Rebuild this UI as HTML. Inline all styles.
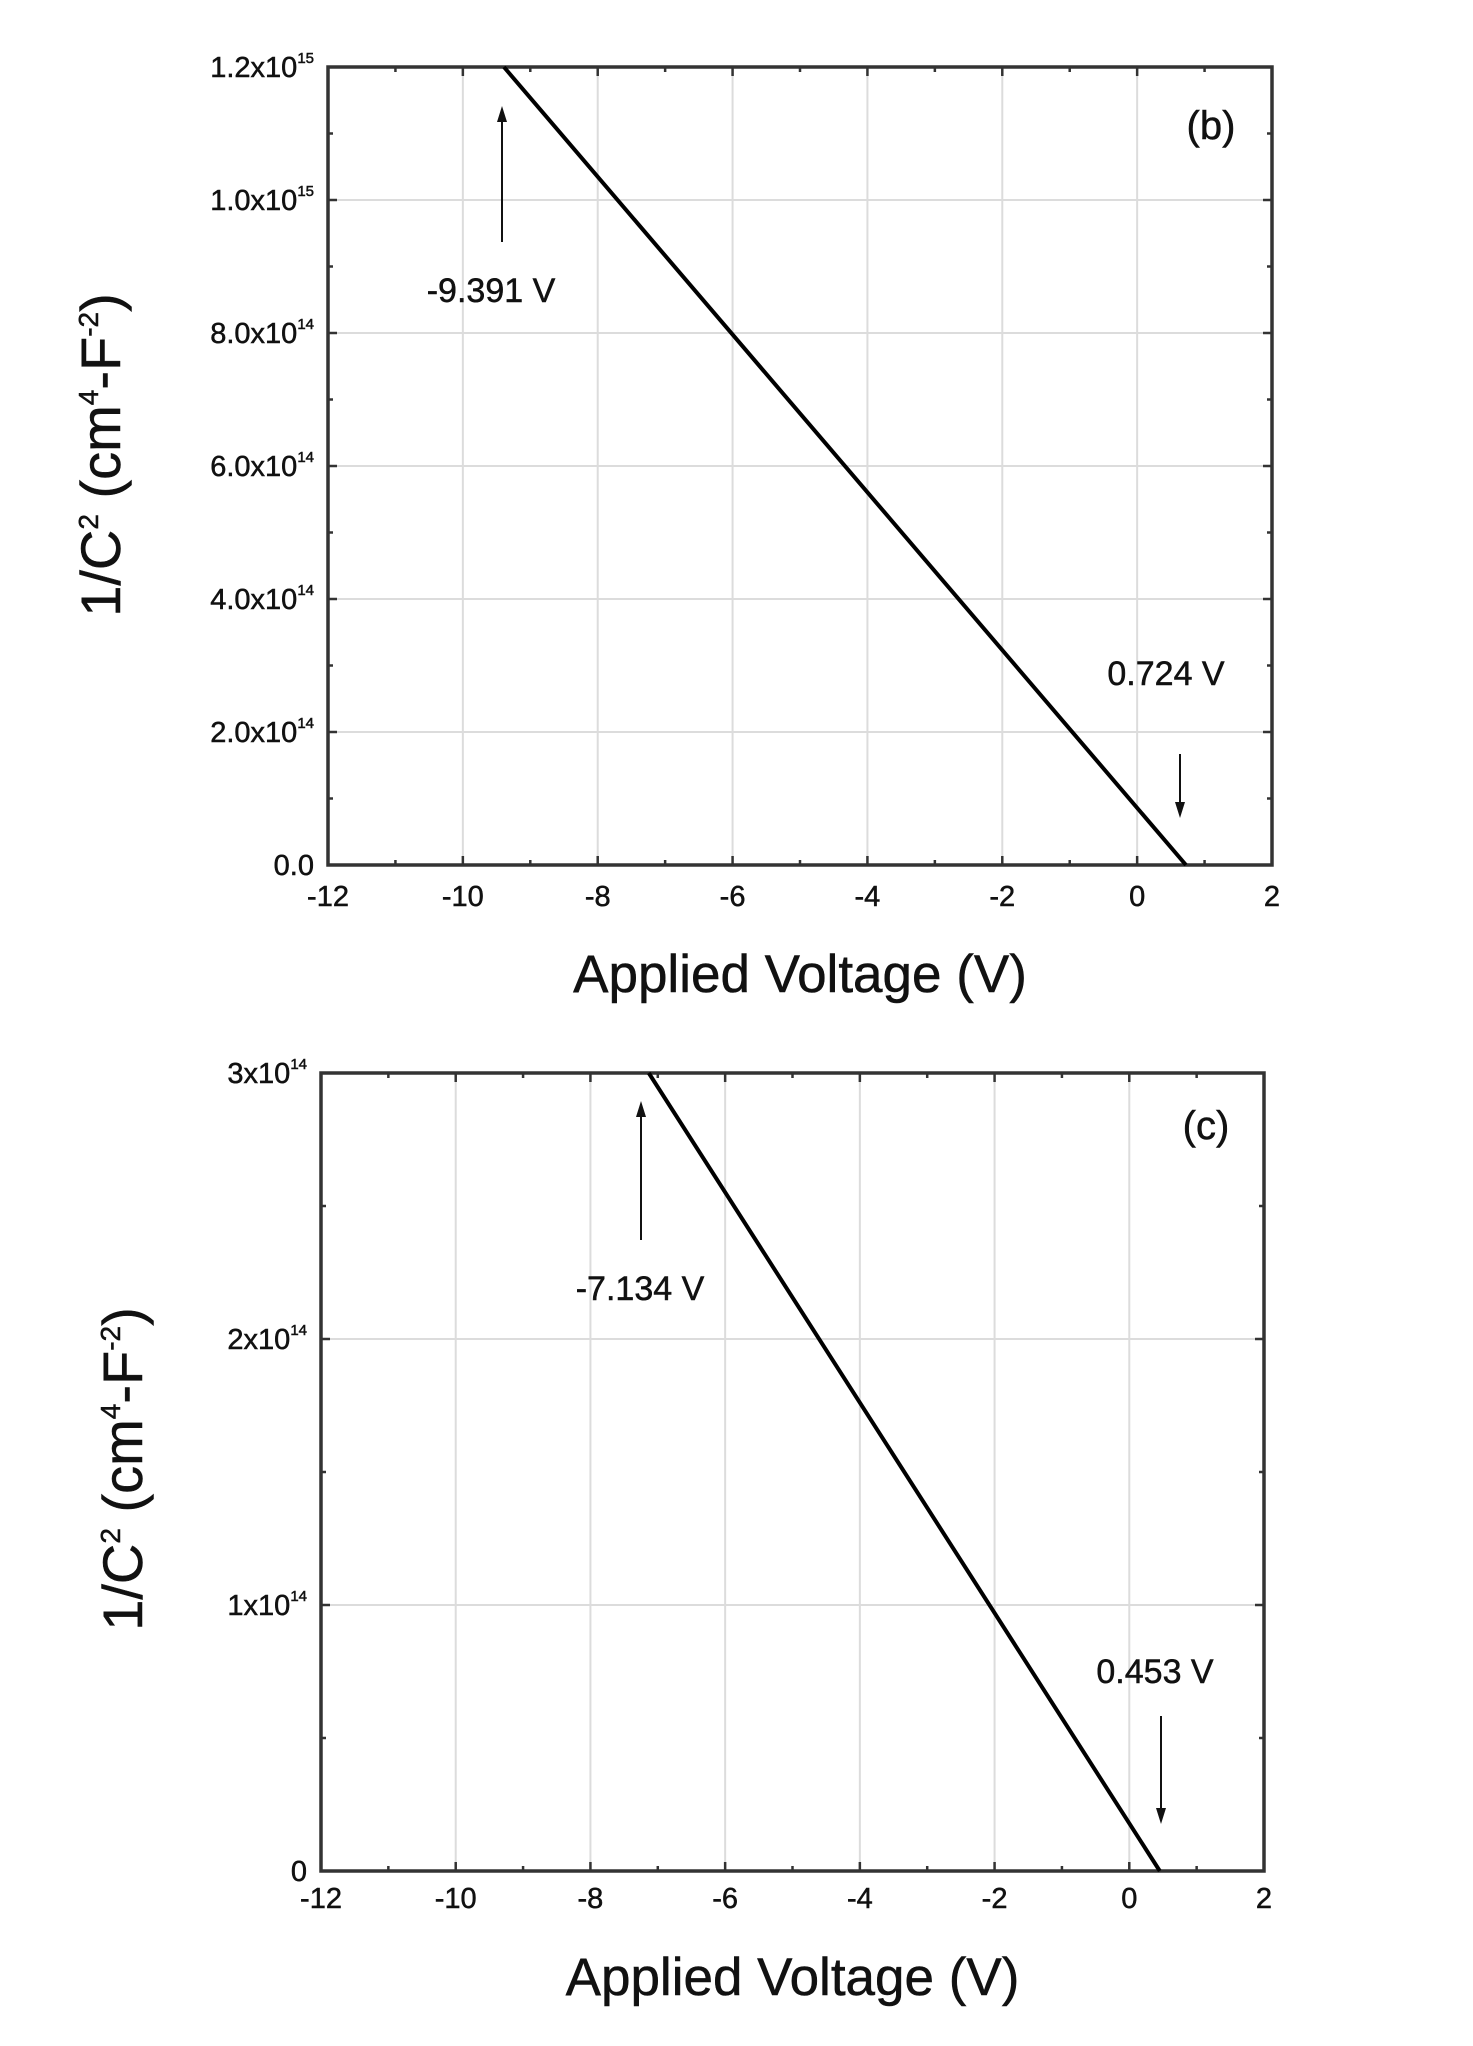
<!DOCTYPE html>
<html><head><meta charset="utf-8"><style>
html,body{margin:0;padding:0;background:#fff;}
svg{display:block;}
text{font-family:"Liberation Sans",Arial,sans-serif;fill:#111;stroke:#111;stroke-width:0.5;}
</style></head><body>
<svg id="fig" width="1473" height="2046" viewBox="0 0 1473 2046"></svg>
<script>
// Panel b data
const bXTicks = [-12,-10,-8,-6,-4,-2,0,2];
const bYTicks = [0,2e14,4e14,6e14,8e14,1e15,1.2e15];
const bYLabels = ["0.0","2.0x10|14","4.0x10|14","6.0x10|14","8.0x10|14","1.0x10|15","1.2x10|15"];
const bLineX = [-9.391, 0.724];
const bLineY = [1.2e15, 0];
// Panel c data
const cXTicks = [-12,-10,-8,-6,-4,-2,0,2];
const cYTicks = [0,1e14,2e14,3e14];
const cYLabels = ["0","1x10|14","2x10|14","3x10|14"];
const cLineX = [-7.134, 0.453];
const cLineY = [3e14, 0];

const NS="http://www.w3.org/2000/svg";
const svg=document.getElementById('fig');
function mk(tag,attrs,parent){const e=document.createElementNS(NS,tag);for(const k in attrs)e.setAttribute(k,attrs[k]);(parent||svg).appendChild(e);return e;}

function panel(p){
  const g=mk('g',{});
  
  
  const xs=v=>p.L+(v-p.xmin)/(p.xmax-p.xmin)*(p.R-p.L);
  const ys=v=>p.B-(v-p.ymin)/(p.ymax-p.ymin)*(p.B-p.T);
  p.xTicks.forEach(v=>{const l=mk('line',{x1:xs(v),x2:xs(v),y1:p.T,y2:p.B,stroke:'#dcdcdc','stroke-width':2},g);
    });
  p.yTicks.forEach(v=>{const l=mk('line',{x1:p.L,x2:p.R,y1:ys(v),y2:ys(v),stroke:'#dcdcdc','stroke-width':2},g);
    });
  for(let i=0;i<p.xTicks.length;i++){const v=p.xTicks[i];
    [[p.B,-1],[p.T,1]].forEach(([y,d])=>mk('line',{x1:xs(v),x2:xs(v),y1:y,y2:y+d*9,stroke:'#333','stroke-width':2.5},g));
    if(i<p.xTicks.length-1){const m=(v+p.xTicks[i+1])/2;
      [[p.B,-1],[p.T,1]].forEach(([y,d])=>mk('line',{x1:xs(m),x2:xs(m),y1:y,y2:y+d*5,stroke:'#333','stroke-width':2.5},g));}
    const t=mk('text',{x:xs(v),y:p.xLabY,'font-size':29,'text-anchor':'middle'},g);t.textContent=String(v);
    }
  for(let i=0;i<p.yTicks.length;i++){const v=p.yTicks[i];
    [[p.L,1],[p.R,-1]].forEach(([x,d])=>mk('line',{x1:x,x2:x+d*9,y1:ys(v),y2:ys(v),stroke:'#333','stroke-width':2.5},g));
    if(i<p.yTicks.length-1){const m=(v+p.yTicks[i+1])/2;
      [[p.L,1],[p.R,-1]].forEach(([x,d])=>mk('line',{x1:x,x2:x+d*5,y1:ys(m),y2:ys(m),stroke:'#333','stroke-width':2.5},g));}
    const parts=p.yLabels[i].split('|');
    const t=mk('text',{x:p.L-14,y:ys(v)+10,'font-size':29,'text-anchor':'end'},g);
    
    const s1=mk('tspan',{},t);s1.textContent=parts[0];
    if(parts[1]){const s2=mk('tspan',{dy:-14,'font-size':15},t);s2.textContent=parts[1];}
  }
  const fr=mk('rect',{x:p.L,y:p.T,width:p.R-p.L,height:p.B-p.T,fill:'none',stroke:'#333','stroke-width':3.5},g);
  
  const ln=mk('line',{x1:xs(p.lx[0]),y1:ys(p.ly[0]),x2:xs(p.lx[1]),y2:ys(p.ly[1]),stroke:'#000','stroke-width':4},g);
  
  p.arrows.forEach(a=>{
    const ax=a.x, y1=a.y1, y2=a.y2, d=y2>y1?1:-1;
    const l=mk('line',{x1:ax,x2:ax,y1:y1,y2:y2-d*10,stroke:'#111','stroke-width':2},g);
    
    mk('polygon',{points:`${ax-5},${y2-d*16} ${ax+5},${y2-d*16} ${ax},${y2}`,fill:'#111'},g);
    const t=mk('text',{x:a.tx,y:a.ty,'font-size':34,'text-anchor':'middle'},g);t.textContent=a.label;
    
  });
  const pl=mk('text',{x:p.tagX,y:p.tagY,'font-size':40,'text-anchor':'middle'},g);pl.textContent=p.tag;
  
  const xt=mk('text',{x:(p.L+p.R)/2,y:p.xTitleY,'font-size':53,'text-anchor':'middle'},g);xt.textContent='Applied Voltage (V)';
  
  const yt=mk('text',{x:0,y:0,'font-size':56,'text-anchor':'middle',transform:`translate(${p.yTitleX},${p.yTitleY}) rotate(-90)`},g);
  
  const a=mk('tspan',{},yt);a.textContent='1/C';
  const b=mk('tspan',{dy:-22,'font-size':28},yt);b.textContent='2';
  const c=mk('tspan',{dy:22},yt);c.textContent=' (cm';
  const d=mk('tspan',{dy:-22,'font-size':28},yt);d.textContent='4';
  const e=mk('tspan',{dy:22},yt);e.textContent='-F';
  const f=mk('tspan',{dy:-22,'font-size':28},yt);f.textContent='-2';
  const h=mk('tspan',{dy:22},yt);h.textContent=')';
}

panel({name:'chart-b',L:328,R:1272,T:67,B:865,xmin:-12,xmax:2,ymin:0,ymax:1.2e15,
  xTicks:bXTicks,yTicks:bYTicks,yLabels:bYLabels,lx:bLineX,ly:bLineY,xLabY:906,
  arrows:[{x:502,y1:242,y2:106,label:'-9.391 V',tx:491,ty:302},{x:1180,y1:754,y2:818,label:'0.724 V',tx:1166,ty:685}],
  tag:'(b)',tagX:1211,tagY:139,xTitleY:992,yTitleX:120,yTitleY:455});
panel({name:'chart-c',L:321,R:1264,T:1073,B:1871,xmin:-12,xmax:2,ymin:0,ymax:3e14,
  xTicks:cXTicks,yTicks:cYTicks,yLabels:cYLabels,lx:cLineX,ly:cLineY,xLabY:1908,
  arrows:[{x:641,y1:1240,y2:1101,label:'-7.134 V',tx:640,ty:1300},{x:1161,y1:1716,y2:1824,label:'0.453 V',tx:1155,ty:1683}],
  tag:'(c)',tagX:1206,tagY:1139,xTitleY:1995,yTitleX:142,yTitleY:1469});
</script>
</body></html>
